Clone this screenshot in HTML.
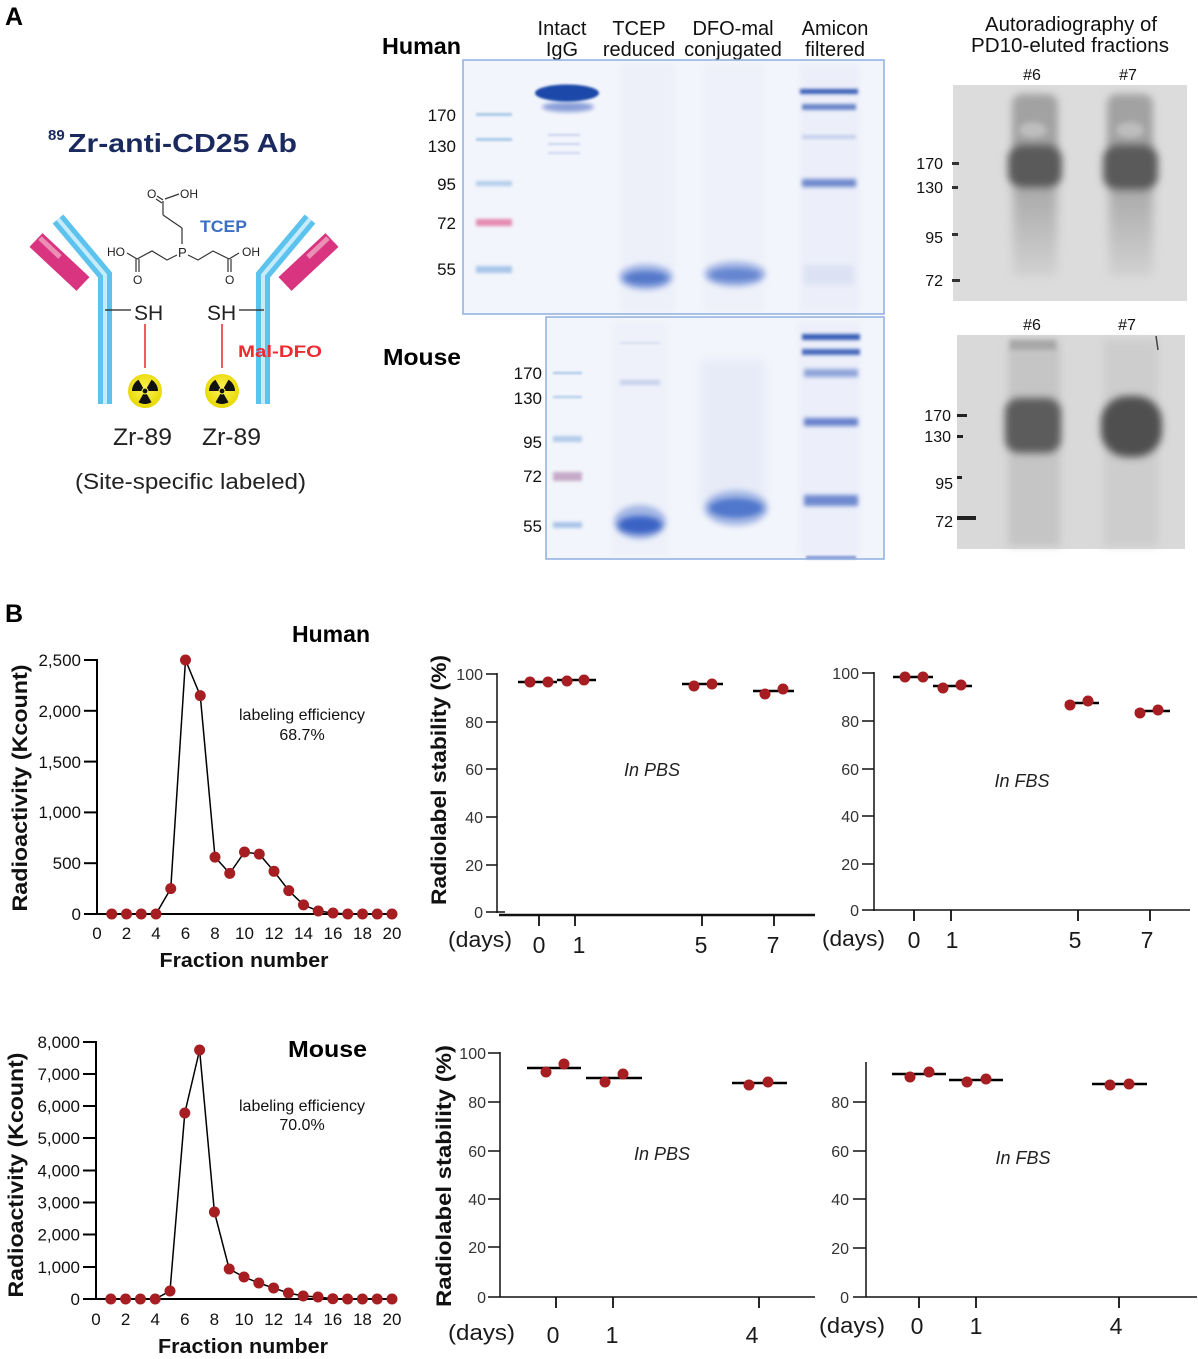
<!DOCTYPE html>
<html>
<head>
<meta charset="utf-8">
<style>
  html,body{margin:0;padding:0;background:#fff;}
  svg{display:block;}
  text{font-family:"Liberation Sans", Arial, sans-serif;}
</style>
</head>
<body>
<svg width="1198" height="1359" viewBox="0 0 1198 1359" xmlns="http://www.w3.org/2000/svg">
<defs>
  <filter id="b1" x="-50%" y="-200%" width="200%" height="500%"><feGaussianBlur stdDeviation="1"/></filter>
  <filter id="b15" x="-50%" y="-200%" width="200%" height="500%"><feGaussianBlur stdDeviation="1.5"/></filter>
  <filter id="b2" x="-50%" y="-200%" width="200%" height="500%"><feGaussianBlur stdDeviation="2"/></filter>
  <filter id="b3" x="-50%" y="-200%" width="200%" height="500%"><feGaussianBlur stdDeviation="3"/></filter>
  <filter id="b4" x="-50%" y="-100%" width="200%" height="300%"><feGaussianBlur stdDeviation="4"/></filter>
  <filter id="b5" x="-50%" y="-100%" width="200%" height="300%"><feGaussianBlur stdDeviation="5"/></filter>
  <filter id="b8" x="-50%" y="-50%" width="200%" height="200%"><feGaussianBlur stdDeviation="8"/></filter>
  <radialGradient id="yel" cx="50%" cy="45%" r="55%">
    <stop offset="0" stop-color="#fbf35a"/>
    <stop offset="1" stop-color="#e8d800"/>
  </radialGradient>
  <linearGradient id="smear" x1="0" y1="0" x2="0" y2="1">
    <stop offset="0" stop-color="#a8a8a8"/>
    <stop offset="1" stop-color="#d2d2d2"/>
  </linearGradient>
  <g id="rad">
    <circle r="17" fill="url(#yel)"/>
    <circle r="2.4" fill="#111"/>
    <path d="M1.75,3.03 L6.5,11.26 A13,13 0 0 1 -6.5,11.26 L-1.75,3.03 A3.5,3.5 0 0 0 1.75,3.03Z" fill="#111"/>
    <path d="M-3.5,0 L-13,0 A13,13 0 0 1 -6.5,-11.26 L-1.75,-3.03 A3.5,3.5 0 0 0 -3.5,0Z" fill="#111"/>
    <path d="M1.75,-3.03 L6.5,-11.26 A13,13 0 0 1 13,0 L3.5,0 A3.5,3.5 0 0 0 1.75,-3.03Z" fill="#111"/>
  </g>
</defs>
<rect width="1198" height="1359" fill="#fff"/>

<!-- ================= PANEL A ================= -->
<text x="5" y="25" font-size="25" font-weight="bold" fill="#000">A</text>

<!-- Title -->
<text x="48" y="140" font-size="15" font-weight="bold" fill="#1b2a5e">89</text>
<text x="68" y="152" font-size="26" font-weight="bold" fill="#1b2a5e" textLength="229" lengthAdjust="spacingAndGlyphs">Zr-anti-CD25 Ab</text>

<!-- Antibody arms -->
<g fill="none" stroke-linejoin="miter">
  <polyline points="58,219 105,275 105,404" stroke="#5cc3ee" stroke-width="14"/>
  <polyline points="58,219 105,275 105,404" stroke="#c6ebfa" stroke-width="4"/>
  <polyline points="310,219 263,275 263,404" stroke="#5cc3ee" stroke-width="14"/>
  <polyline points="310,219 263,275 263,404" stroke="#c6ebfa" stroke-width="4"/>
  <line x1="36" y1="240" x2="83" y2="284" stroke="#d8347f" stroke-width="19"/>
  <line x1="40" y1="238" x2="60" y2="257" stroke="#ec8fb7" stroke-width="5"/>
  <line x1="332" y1="240" x2="285" y2="284" stroke="#d8347f" stroke-width="19"/>
  <line x1="328" y1="238" x2="308" y2="257" stroke="#ec8fb7" stroke-width="5"/>
</g>

<!-- TCEP structure -->
<g stroke="#333" stroke-width="1.2" fill="none">
  <line x1="157" y1="196" x2="163" y2="200"/>
  <line x1="156" y1="199" x2="162" y2="203"/>
  <line x1="165" y1="199" x2="179" y2="194"/>
  <line x1="163" y1="201" x2="163" y2="215"/>
  <line x1="163" y1="215" x2="182" y2="228"/>
  <line x1="182" y1="228" x2="182" y2="244"/>
  <polyline points="177,255 167,260 152,251 137,259"/>
  <line x1="137" y1="259" x2="127" y2="253"/>
  <line x1="136" y1="259" x2="136" y2="272"/>
  <line x1="139" y1="259" x2="139" y2="272"/>
  <polyline points="188,255 198,260 213,251 229,259"/>
  <line x1="229" y1="259" x2="239" y2="253"/>
  <line x1="228" y1="259" x2="228" y2="272"/>
  <line x1="231" y1="259" x2="231" y2="272"/>
</g>
<g font-size="12" fill="#222">
  <text x="147" y="198">O</text>
  <text x="180" y="198">OH</text>
  <text x="178" y="257" font-size="13">P</text>
  <text x="107" y="256">HO</text>
  <text x="242" y="256">OH</text>
  <text x="133" y="284">O</text>
  <text x="225" y="284">O</text>
</g>
<text x="200" y="232" font-size="17" font-weight="bold" fill="#3c6fc4" textLength="47" lengthAdjust="spacingAndGlyphs">TCEP</text>

<!-- SH and linkers -->
<line x1="105" y1="310" x2="131" y2="310" stroke="#222" stroke-width="1.3"/>
<line x1="239" y1="310" x2="264" y2="310" stroke="#222" stroke-width="1.3"/>
<text x="134" y="320" font-size="21" fill="#222">SH</text>
<text x="207" y="320" font-size="21" fill="#222">SH</text>
<line x1="145" y1="324" x2="145" y2="368" stroke="#e8242c" stroke-width="1.5"/>
<line x1="222" y1="324" x2="222" y2="368" stroke="#e8242c" stroke-width="1.5"/>
<text x="238" y="357" font-size="17" font-weight="bold" fill="#ee2a33" textLength="84" lengthAdjust="spacingAndGlyphs">Mal-DFO</text>
<use href="#rad" x="145" y="391"/>
<use href="#rad" x="222" y="391"/>
<text x="113" y="445" font-size="24" fill="#222" textLength="59" lengthAdjust="spacingAndGlyphs">Zr-89</text>
<text x="202" y="445" font-size="24" fill="#222" textLength="59" lengthAdjust="spacingAndGlyphs">Zr-89</text>
<text x="75" y="489" font-size="22" fill="#222" textLength="231" lengthAdjust="spacingAndGlyphs">(Site-specific labeled)</text>

<!-- Gel headers -->
<text x="382" y="54" font-size="23" font-weight="bold" fill="#000" textLength="79" lengthAdjust="spacingAndGlyphs">Human</text>
<g font-size="20" fill="#111" text-anchor="middle">
  <text x="562" y="35">Intact</text>
  <text x="562" y="56">IgG</text>
  <text x="639" y="35">TCEP</text>
  <text x="639" y="56">reduced</text>
  <text x="733" y="35">DFO-mal</text>
  <text x="733" y="56">conjugated</text>
  <text x="835" y="35">Amicon</text>
  <text x="835" y="56">filtered</text>
</g>

<!-- Human gel -->
<rect x="463" y="60" width="421" height="254" fill="#f3f5fc"/>
<g>
  <rect x="620" y="64" width="55" height="248" fill="#edf0f9" filter="url(#b3)"/>
  <rect x="703" y="64" width="62" height="248" fill="#eef1f9" filter="url(#b3)"/>
  <rect x="800" y="64" width="60" height="248" fill="#eceff9" filter="url(#b3)"/>
  <!-- ladder -->
  <rect x="476" y="113" width="36" height="3" fill="#a9c9e6" filter="url(#b1)"/>
  <rect x="476" y="138" width="36" height="3" fill="#a9c9e6" filter="url(#b1)"/>
  <rect x="476" y="181" width="36" height="5" fill="#b2cde9" filter="url(#b15)"/>
  <rect x="476" y="219" width="36" height="7" fill="#e48ab0" filter="url(#b15)"/>
  <rect x="476" y="266" width="36" height="7" fill="#a8c5e8" filter="url(#b15)"/>
  <!-- intact IgG -->
  <ellipse cx="568" cy="107" rx="26" ry="5" fill="#8a9fd8" filter="url(#b2)"/>
  <rect x="548" y="134" width="32" height="2" fill="#c9d2ee" filter="url(#b1)"/>
  <rect x="548" y="143" width="32" height="2" fill="#c9d2ee" filter="url(#b1)"/>
  <rect x="548" y="152" width="32" height="2" fill="#cdd5ef" filter="url(#b1)"/>
  <ellipse cx="567" cy="93" rx="32" ry="8.5" fill="#1c48a9" filter="url(#b1)"/>
  <!-- TCEP -->
  <ellipse cx="646" cy="277" rx="27" ry="13" fill="#a5b8e6" filter="url(#b3)"/>
  <ellipse cx="646" cy="278" rx="22" ry="7" fill="#5578ca" filter="url(#b3)"/>
  <!-- DFO -->
  <ellipse cx="735" cy="274" rx="31" ry="13" fill="#aabce7" filter="url(#b3)"/>
  <ellipse cx="735" cy="275" rx="26" ry="7" fill="#6585d0" filter="url(#b3)"/>
  <!-- Amicon -->
  <rect x="800" y="89" width="58" height="5" fill="#3b60b8" filter="url(#b15)"/>
  <rect x="802" y="104" width="54" height="6" fill="#6b86c9" filter="url(#b15)"/>
  <rect x="802" y="135" width="54" height="4" fill="#c4cfec" filter="url(#b15)"/>
  <rect x="802" y="179" width="54" height="8" fill="#6d88cd" filter="url(#b2)"/>
  <rect x="804" y="265" width="50" height="20" fill="#dce2f3" filter="url(#b3)"/>
</g>
<rect x="463" y="60" width="421" height="254" fill="none" stroke="#8eaee0" stroke-width="1.5"/>
<g font-size="17" fill="#111" text-anchor="end">
  <text x="456" y="121">170</text>
  <text x="456" y="152">130</text>
  <text x="456" y="190">95</text>
  <text x="456" y="229">72</text>
  <text x="456" y="275">55</text>
</g>

<!-- Mouse gel -->
<text x="383" y="365" font-size="23" font-weight="bold" fill="#000" textLength="78" lengthAdjust="spacingAndGlyphs">Mouse</text>
<rect x="546" y="317" width="338" height="242" fill="#f3f5fc"/>
<g>
  <rect x="700" y="360" width="66" height="150" fill="#e7ebf7" filter="url(#b5)"/>
  <rect x="612" y="322" width="56" height="234" fill="#eef1f9" filter="url(#b3)"/>
  <rect x="798" y="322" width="62" height="234" fill="#eceff9" filter="url(#b3)"/>
  <!-- ladder -->
  <rect x="553" y="372" width="29" height="2" fill="#9fbfe4" filter="url(#b1)"/>
  <rect x="553" y="396" width="29" height="2" fill="#a9c6e6" filter="url(#b1)"/>
  <rect x="553" y="436" width="29" height="6" fill="#b3cbe9" filter="url(#b15)"/>
  <rect x="553" y="472" width="29" height="9" fill="#c6abc9" filter="url(#b15)"/>
  <rect x="553" y="522" width="29" height="6" fill="#a9c5e8" filter="url(#b15)"/>
  <!-- TCEP lane -->
  <rect x="620" y="342" width="40" height="2" fill="#d5dcf1" filter="url(#b1)"/>
  <rect x="620" y="380" width="40" height="5" fill="#c7d0ed" filter="url(#b15)"/>
  <ellipse cx="640" cy="522" rx="26" ry="17" fill="#a4b7e5" filter="url(#b3)"/>
  <ellipse cx="640" cy="525" rx="22" ry="9" fill="#3a64c4" filter="url(#b3)"/>
  <!-- DFO lane -->
  <ellipse cx="736" cy="508" rx="32" ry="18" fill="#a9bbe6" filter="url(#b3)"/>
  <ellipse cx="736" cy="508" rx="27" ry="10" fill="#5077cc" filter="url(#b3)"/>
  <!-- Amicon -->
  <rect x="802" y="334" width="58" height="6" fill="#3b5eb8" filter="url(#b15)"/>
  <rect x="802" y="349" width="58" height="6" fill="#4a6abd" filter="url(#b15)"/>
  <rect x="804" y="369" width="54" height="8" fill="#8ea3d9" filter="url(#b2)"/>
  <rect x="804" y="418" width="54" height="8" fill="#6680cb" filter="url(#b2)"/>
  <rect x="804" y="495" width="54" height="11" fill="#7089d0" filter="url(#b2)"/>
  <rect x="806" y="556" width="50" height="3" fill="#7b91d1" filter="url(#b1)"/>
</g>
<rect x="546" y="317" width="338" height="242" fill="none" stroke="#8eaee0" stroke-width="1.5"/>
<g font-size="17" fill="#111" text-anchor="end">
  <text x="542" y="379">170</text>
  <text x="542" y="404">130</text>
  <text x="542" y="448">95</text>
  <text x="542" y="482">72</text>
  <text x="542" y="532">55</text>
</g>

<!-- Autoradiography -->
<text x="985" y="31" font-size="20" fill="#111" textLength="172" lengthAdjust="spacingAndGlyphs">Autoradiography of</text>
<text x="971" y="52" font-size="20" fill="#111" textLength="198" lengthAdjust="spacingAndGlyphs">PD10-eluted fractions</text>
<text x="1032" y="80" font-size="16" fill="#111" text-anchor="middle">#6</text>
<text x="1128" y="80" font-size="16" fill="#111" text-anchor="middle">#7</text>

<rect x="953" y="85" width="234" height="216" fill="#dcdcdc"/>
<g>
  <!-- lane 6 -->
  <rect x="1013" y="185" width="44" height="92" fill="url(#smear)" filter="url(#b5)"/>
  <rect x="1012" y="94" width="46" height="60" rx="10" fill="#a2a2a2" filter="url(#b4)"/>
  <ellipse cx="1033" cy="130" rx="14" ry="8" fill="#bdbdbd" filter="url(#b3)"/>
  <rect x="1008" y="145" width="54" height="43" rx="14" fill="#5a5a5a" filter="url(#b4)"/>
  <!-- lane 7 -->
  <rect x="1109" y="185" width="44" height="92" fill="url(#smear)" filter="url(#b5)"/>
  <rect x="1107" y="94" width="46" height="60" rx="10" fill="#a2a2a2" filter="url(#b4)"/>
  <ellipse cx="1130" cy="130" rx="14" ry="8" fill="#bdbdbd" filter="url(#b3)"/>
  <rect x="1103" y="145" width="55" height="45" rx="14" fill="#5a5a5a" filter="url(#b4)"/>
</g>
<g fill="#333">
  <rect x="952" y="162" width="7" height="3"/>
  <rect x="952" y="186" width="6" height="3"/>
  <rect x="952" y="233" width="6" height="3"/>
  <rect x="952" y="279" width="8" height="3"/>
</g>
<g font-size="16" fill="#111" text-anchor="end">
  <text x="943" y="169">170</text>
  <text x="943" y="193">130</text>
  <text x="943" y="243">95</text>
  <text x="943" y="286">72</text>
</g>

<text x="1032" y="330" font-size="16" fill="#111" text-anchor="middle">#6</text>
<text x="1127" y="330" font-size="16" fill="#111" text-anchor="middle">#7</text>
<rect x="957" y="335" width="228" height="214" fill="#d9d9d9"/>
<g>
  <rect x="1008" y="340" width="52" height="206" fill="#c5c5c5" filter="url(#b4)"/>
  <rect x="1104" y="340" width="54" height="206" fill="#cdcdcd" filter="url(#b4)"/>
  <rect x="1010" y="340" width="46" height="10" fill="#a8a8a8" filter="url(#b2)"/>
  <rect x="1005" y="398" width="56" height="55" rx="14" fill="#5c5c5c" filter="url(#b4)"/>
  <rect x="1101" y="396" width="61" height="61" rx="26" fill="#4f4f4f" filter="url(#b4)"/>
  <line x1="1156" y1="336" x2="1158" y2="350" stroke="#444" stroke-width="1.5"/>
</g>
<g fill="#222">
  <rect x="957" y="414" width="10" height="3"/>
  <rect x="957" y="435" width="6" height="3"/>
  <rect x="957" y="476" width="5" height="3"/>
  <rect x="957" y="516" width="19" height="4"/>
</g>
<g font-size="16" fill="#111" text-anchor="end">
  <text x="951" y="421">170</text>
  <text x="951" y="442">130</text>
  <text x="953" y="489">95</text>
  <text x="953" y="527">72</text>
</g>

<!-- ================= PANEL B ================= -->
<text x="5" y="622" font-size="25" font-weight="bold" fill="#000">B</text>

<!-- Human fraction chart -->
<text x="292" y="642" font-size="23" font-weight="bold" fill="#000" textLength="78" lengthAdjust="spacingAndGlyphs">Human</text>
<g stroke="#000" stroke-width="2" fill="none">
  <line x1="97" y1="659" x2="97" y2="915"/>
  <line x1="96" y1="914" x2="393" y2="914"/>
  <line x1="84" y1="660" x2="97" y2="660"/>
  <line x1="84" y1="710.8" x2="97" y2="710.8"/>
  <line x1="84" y1="761.6" x2="97" y2="761.6"/>
  <line x1="84" y1="812.4" x2="97" y2="812.4"/>
  <line x1="84" y1="863.2" x2="97" y2="863.2"/>
  <line x1="84" y1="914" x2="97" y2="914"/>
</g>
<g font-size="17" fill="#111" text-anchor="end">
  <text x="81" y="666">2,500</text>
  <text x="81" y="717">2,000</text>
  <text x="81" y="768">1,500</text>
  <text x="81" y="818">1,000</text>
  <text x="81" y="869">500</text>
  <text x="81" y="920">0</text>
</g>
<g font-size="17" fill="#111" text-anchor="middle">
  <text x="97" y="939">0</text><text x="126.5" y="939">2</text><text x="156" y="939">4</text>
  <text x="185.5" y="939">6</text><text x="215" y="939">8</text><text x="244.5" y="939">10</text>
  <text x="274" y="939">12</text><text x="303.5" y="939">14</text><text x="333" y="939">16</text>
  <text x="362.5" y="939">18</text><text x="392" y="939">20</text>
</g>
<text x="244" y="967" font-size="20" font-weight="bold" fill="#111" text-anchor="middle" textLength="169" lengthAdjust="spacingAndGlyphs">Fraction number</text>
<text transform="translate(27,788) rotate(-90)" font-size="21" font-weight="bold" fill="#111" text-anchor="middle" textLength="247" lengthAdjust="spacingAndGlyphs">Radioactivity (Kcount)</text>
<text x="302" y="720" font-size="16" fill="#111" text-anchor="middle">labeling efficiency</text>
<text x="302" y="740" font-size="16" fill="#111" text-anchor="middle">68.7%</text>
<polyline fill="none" stroke="#000" stroke-width="1.5" points="111.75,914 126.5,914 141.25,914 156,914 170.75,888.6 185.5,660 200.25,695.6 215,857.1 229.75,873.4 244.5,852 259.25,854.1 274,871.3 288.75,890.6 303.5,904.9 318.25,911 333,913 347.75,914 362.5,914 377.25,914 392,914"/>
<g fill="#a61e22">
  <circle cx="111.75" cy="914" r="5.5"/><circle cx="126.5" cy="914" r="5.5"/><circle cx="141.25" cy="914" r="5.5"/>
  <circle cx="156" cy="914" r="5.5"/><circle cx="170.75" cy="888.6" r="5.5"/><circle cx="185.5" cy="660" r="5.5"/>
  <circle cx="200.25" cy="695.6" r="5.5"/><circle cx="215" cy="857.1" r="5.5"/><circle cx="229.75" cy="873.4" r="5.5"/>
  <circle cx="244.5" cy="852" r="5.5"/><circle cx="259.25" cy="854.1" r="5.5"/><circle cx="274" cy="871.3" r="5.5"/>
  <circle cx="288.75" cy="890.6" r="5.5"/><circle cx="303.5" cy="904.9" r="5.5"/><circle cx="318.25" cy="911" r="5.5"/>
  <circle cx="333" cy="913" r="5.5"/><circle cx="347.75" cy="914" r="5.5"/><circle cx="362.5" cy="914" r="5.5"/>
  <circle cx="377.25" cy="914" r="5.5"/><circle cx="392" cy="914" r="5.5"/>
</g>

<!-- Mouse fraction chart -->
<text x="288" y="1057" font-size="23" font-weight="bold" fill="#000" textLength="79" lengthAdjust="spacingAndGlyphs">Mouse</text>
<g stroke="#000" stroke-width="2" fill="none">
  <line x1="96" y1="1041" x2="96" y2="1300"/>
  <line x1="95" y1="1299" x2="393" y2="1299"/>
  <line x1="83" y1="1042" x2="96" y2="1042"/>
  <line x1="83" y1="1074" x2="96" y2="1074"/>
  <line x1="83" y1="1106" x2="96" y2="1106"/>
  <line x1="83" y1="1138" x2="96" y2="1138"/>
  <line x1="83" y1="1170.5" x2="96" y2="1170.5"/>
  <line x1="83" y1="1202.5" x2="96" y2="1202.5"/>
  <line x1="83" y1="1234.5" x2="96" y2="1234.5"/>
  <line x1="83" y1="1267" x2="96" y2="1267"/>
  <line x1="83" y1="1299" x2="96" y2="1299"/>
</g>
<g font-size="17" fill="#111" text-anchor="end">
  <text x="80" y="1048">8,000</text>
  <text x="80" y="1080">7,000</text>
  <text x="80" y="1112">6,000</text>
  <text x="80" y="1144">5,000</text>
  <text x="80" y="1176.5">4,000</text>
  <text x="80" y="1208.5">3,000</text>
  <text x="80" y="1240.5">2,000</text>
  <text x="80" y="1273">1,000</text>
  <text x="80" y="1305">0</text>
</g>
<g font-size="17" fill="#111" text-anchor="middle">
  <text x="96" y="1325">0</text><text x="125.6" y="1325">2</text><text x="155.2" y="1325">4</text>
  <text x="184.8" y="1325">6</text><text x="214.4" y="1325">8</text><text x="244" y="1325">10</text>
  <text x="273.6" y="1325">12</text><text x="303.2" y="1325">14</text><text x="332.8" y="1325">16</text>
  <text x="362.4" y="1325">18</text><text x="392" y="1325">20</text>
</g>
<text x="243" y="1353" font-size="20" font-weight="bold" fill="#111" text-anchor="middle" textLength="170" lengthAdjust="spacingAndGlyphs">Fraction number</text>
<text transform="translate(23,1175) rotate(-90)" font-size="21" font-weight="bold" fill="#111" text-anchor="middle" textLength="245" lengthAdjust="spacingAndGlyphs">Radioactivity (Kcount)</text>
<text x="302" y="1111" font-size="16" fill="#111" text-anchor="middle">labeling efficiency</text>
<text x="302" y="1130" font-size="16" fill="#111" text-anchor="middle">70.0%</text>
<polyline fill="none" stroke="#000" stroke-width="1.5" points="110.8,1299 125.6,1299 140.4,1299 155.2,1299 170,1291 184.8,1113 199.6,1050 214.4,1212 229.2,1269 244,1277 258.8,1283 273.6,1288 288.4,1293 303.2,1296 318,1297 332.8,1298.7 347.6,1299 362.4,1299 377.2,1299 392,1299"/>
<g fill="#a61e22">
  <circle cx="110.8" cy="1299" r="5.5"/><circle cx="125.6" cy="1299" r="5.5"/><circle cx="140.4" cy="1299" r="5.5"/>
  <circle cx="155.2" cy="1299" r="5.5"/><circle cx="170" cy="1291" r="5.5"/><circle cx="184.8" cy="1113" r="5.5"/>
  <circle cx="199.6" cy="1050" r="5.5"/><circle cx="214.4" cy="1212" r="5.5"/><circle cx="229.2" cy="1269" r="5.5"/>
  <circle cx="244" cy="1277" r="5.5"/><circle cx="258.8" cy="1283" r="5.5"/><circle cx="273.6" cy="1288" r="5.5"/>
  <circle cx="288.4" cy="1293" r="5.5"/><circle cx="303.2" cy="1296" r="5.5"/><circle cx="318" cy="1297" r="5.5"/>
  <circle cx="332.8" cy="1298.7" r="5.5"/><circle cx="347.6" cy="1299" r="5.5"/><circle cx="362.4" cy="1299" r="5.5"/>
  <circle cx="377.2" cy="1299" r="5.5"/><circle cx="392" cy="1299" r="5.5"/>
</g>

<!-- Human PBS stability -->
<text transform="translate(446,780) rotate(-90)" font-size="21" font-weight="bold" fill="#111" text-anchor="middle" textLength="250" lengthAdjust="spacingAndGlyphs">Radiolabel stability (%)</text>
<g stroke="#111" stroke-width="1.5" fill="none">
  <line x1="497" y1="673" x2="497" y2="913"/>
  <line x1="486" y1="674" x2="497" y2="674"/>
  <line x1="486" y1="722" x2="497" y2="722"/>
  <line x1="486" y1="769" x2="497" y2="769"/>
  <line x1="486" y1="817" x2="497" y2="817"/>
  <line x1="486" y1="865" x2="497" y2="865"/>
  <line x1="486" y1="912" x2="505" y2="912"/>
</g>
<line x1="499" y1="915" x2="815" y2="915" stroke="#111" stroke-width="2.5"/>
<g stroke="#111" stroke-width="1.8">
  <line x1="539" y1="915" x2="539" y2="926"/>
  <line x1="575" y1="915" x2="575" y2="926"/>
  <line x1="702" y1="915" x2="702" y2="926"/>
  <line x1="774" y1="915" x2="774" y2="926"/>
</g>
<g font-size="16" fill="#333" text-anchor="end">
  <text x="483" y="680">100</text><text x="483" y="728">80</text><text x="483" y="775">60</text>
  <text x="483" y="823">40</text><text x="483" y="871">20</text><text x="483" y="918">0</text>
</g>
<text x="448" y="947" font-size="22" fill="#1a1a1a" textLength="64" lengthAdjust="spacingAndGlyphs">(days)</text>
<g font-size="23" fill="#1a1a1a" text-anchor="middle">
  <text x="539" y="953">0</text><text x="579" y="953">1</text><text x="701" y="953">5</text><text x="773" y="953">7</text>
</g>
<text x="652" y="776" font-size="18" font-style="italic" fill="#222" text-anchor="middle">In PBS</text>
<g stroke="#000" stroke-width="2.5">
  <line x1="518" y1="682" x2="557" y2="682"/>
  <line x1="557" y1="680" x2="596" y2="680"/>
  <line x1="682" y1="684" x2="723" y2="684"/>
  <line x1="753" y1="691" x2="794" y2="691"/>
</g>
<g fill="#a61e22">
  <circle cx="530" cy="682" r="5.5"/><circle cx="548" cy="682" r="5.5"/>
  <circle cx="567" cy="681" r="5.5"/><circle cx="584" cy="680" r="5.5"/>
  <circle cx="694" cy="686" r="5.5"/><circle cx="712" cy="684" r="5.5"/>
  <circle cx="765" cy="694" r="5.5"/><circle cx="783" cy="689" r="5.5"/>
</g>

<!-- Human FBS stability -->
<g stroke="#111" stroke-width="1.5" fill="none">
  <line x1="874" y1="672" x2="874" y2="911"/>
  <line x1="862" y1="673" x2="874" y2="673"/>
  <line x1="862" y1="721" x2="874" y2="721"/>
  <line x1="862" y1="769" x2="874" y2="769"/>
  <line x1="862" y1="816" x2="874" y2="816"/>
  <line x1="862" y1="864" x2="874" y2="864"/>
  <line x1="862" y1="910" x2="1190" y2="910"/>
</g>
<g stroke="#111" stroke-width="1.8">
  <line x1="914" y1="910" x2="914" y2="921"/>
  <line x1="951" y1="910" x2="951" y2="921"/>
  <line x1="1078" y1="910" x2="1078" y2="921"/>
  <line x1="1150" y1="910" x2="1150" y2="921"/>
</g>
<g font-size="16" fill="#333" text-anchor="end">
  <text x="859" y="679">100</text><text x="859" y="727">80</text><text x="859" y="775">60</text>
  <text x="859" y="822">40</text><text x="859" y="870">20</text><text x="859" y="916">0</text>
</g>
<text x="822" y="946" font-size="22" fill="#1a1a1a" textLength="63" lengthAdjust="spacingAndGlyphs">(days)</text>
<g font-size="23" fill="#1a1a1a" text-anchor="middle">
  <text x="914" y="948">0</text><text x="952" y="948">1</text><text x="1075" y="948">5</text><text x="1147" y="948">7</text>
</g>
<text x="1022" y="787" font-size="18" font-style="italic" fill="#222" text-anchor="middle">In FBS</text>
<g stroke="#000" stroke-width="2.5">
  <line x1="893" y1="677" x2="933" y2="677"/>
  <line x1="933" y1="686" x2="972" y2="686"/>
  <line x1="1065" y1="703" x2="1099" y2="703"/>
  <line x1="1135" y1="711" x2="1170" y2="711"/>
</g>
<g fill="#a61e22">
  <circle cx="905" cy="677" r="5.5"/><circle cx="923" cy="677" r="5.5"/>
  <circle cx="943" cy="688" r="5.5"/><circle cx="961" cy="685" r="5.5"/>
  <circle cx="1070" cy="705" r="5.5"/><circle cx="1088" cy="701" r="5.5"/>
  <circle cx="1140" cy="713" r="5.5"/><circle cx="1158" cy="710" r="5.5"/>
</g>

<!-- Mouse PBS stability -->
<text transform="translate(451,1176) rotate(-90)" font-size="21" font-weight="bold" fill="#111" text-anchor="middle" textLength="262" lengthAdjust="spacingAndGlyphs">Radiolabel stability (%)</text>
<g stroke="#111" stroke-width="1.5" fill="none">
  <line x1="500" y1="1052" x2="500" y2="1297"/>
  <line x1="488" y1="1053" x2="500" y2="1053"/>
  <line x1="488" y1="1102" x2="500" y2="1102"/>
  <line x1="488" y1="1151" x2="500" y2="1151"/>
  <line x1="488" y1="1199" x2="500" y2="1199"/>
  <line x1="488" y1="1247" x2="500" y2="1247"/>
  <line x1="488" y1="1297" x2="815" y2="1297"/>
</g>
<g stroke="#111" stroke-width="1.8">
  <line x1="556" y1="1297" x2="556" y2="1308"/>
  <line x1="613" y1="1297" x2="613" y2="1308"/>
  <line x1="759" y1="1297" x2="759" y2="1308"/>
</g>
<g font-size="16" fill="#333" text-anchor="end">
  <text x="486" y="1059">100</text><text x="486" y="1108">80</text><text x="486" y="1157">60</text>
  <text x="486" y="1205">40</text><text x="486" y="1253">20</text><text x="486" y="1303">0</text>
</g>
<text x="448" y="1340" font-size="22" fill="#1a1a1a" textLength="67" lengthAdjust="spacingAndGlyphs">(days)</text>
<g font-size="23" fill="#1a1a1a" text-anchor="middle">
  <text x="553" y="1343">0</text><text x="612" y="1343">1</text><text x="752" y="1343">4</text>
</g>
<text x="662" y="1160" font-size="18" font-style="italic" fill="#222" text-anchor="middle">In PBS</text>
<g stroke="#000" stroke-width="2.5">
  <line x1="527" y1="1068" x2="581" y2="1068"/>
  <line x1="586" y1="1078" x2="642" y2="1078"/>
  <line x1="732" y1="1083" x2="787" y2="1083"/>
</g>
<g fill="#a61e22">
  <circle cx="546" cy="1072" r="5.5"/><circle cx="564" cy="1064" r="5.5"/>
  <circle cx="605" cy="1082" r="5.5"/><circle cx="623" cy="1074" r="5.5"/>
  <circle cx="749" cy="1085" r="5.5"/><circle cx="768" cy="1082" r="5.5"/>
</g>

<!-- Mouse FBS stability -->
<g stroke="#111" stroke-width="1.5" fill="none">
  <line x1="866" y1="1062" x2="866" y2="1297"/>
  <line x1="853" y1="1102" x2="866" y2="1102"/>
  <line x1="853" y1="1151" x2="866" y2="1151"/>
  <line x1="853" y1="1199" x2="866" y2="1199"/>
  <line x1="853" y1="1248" x2="866" y2="1248"/>
  <line x1="853" y1="1297" x2="1197" y2="1297"/>
</g>
<g stroke="#111" stroke-width="1.8">
  <line x1="919" y1="1297" x2="919" y2="1308"/>
  <line x1="976" y1="1297" x2="976" y2="1308"/>
  <line x1="1119" y1="1297" x2="1119" y2="1308"/>
</g>
<g font-size="16" fill="#333" text-anchor="end">
  <text x="849" y="1108">80</text><text x="849" y="1157">60</text>
  <text x="849" y="1205">40</text><text x="849" y="1254">20</text><text x="849" y="1303">0</text>
</g>
<text x="819" y="1333" font-size="22" fill="#1a1a1a" textLength="66" lengthAdjust="spacingAndGlyphs">(days)</text>
<g font-size="23" fill="#1a1a1a" text-anchor="middle">
  <text x="917" y="1334">0</text><text x="976" y="1334">1</text><text x="1116" y="1334">4</text>
</g>
<text x="1023" y="1164" font-size="18" font-style="italic" fill="#222" text-anchor="middle">In FBS</text>
<g stroke="#000" stroke-width="2.5">
  <line x1="892" y1="1074" x2="946" y2="1074"/>
  <line x1="949" y1="1080" x2="1003" y2="1080"/>
  <line x1="1092" y1="1084" x2="1147" y2="1084"/>
</g>
<g fill="#a61e22">
  <circle cx="910" cy="1077" r="5.5"/><circle cx="929" cy="1072" r="5.5"/>
  <circle cx="967" cy="1082" r="5.5"/><circle cx="986" cy="1079" r="5.5"/>
  <circle cx="1110" cy="1085" r="5.5"/><circle cx="1129" cy="1084" r="5.5"/>
</g>
</svg>
</body>
</html>
